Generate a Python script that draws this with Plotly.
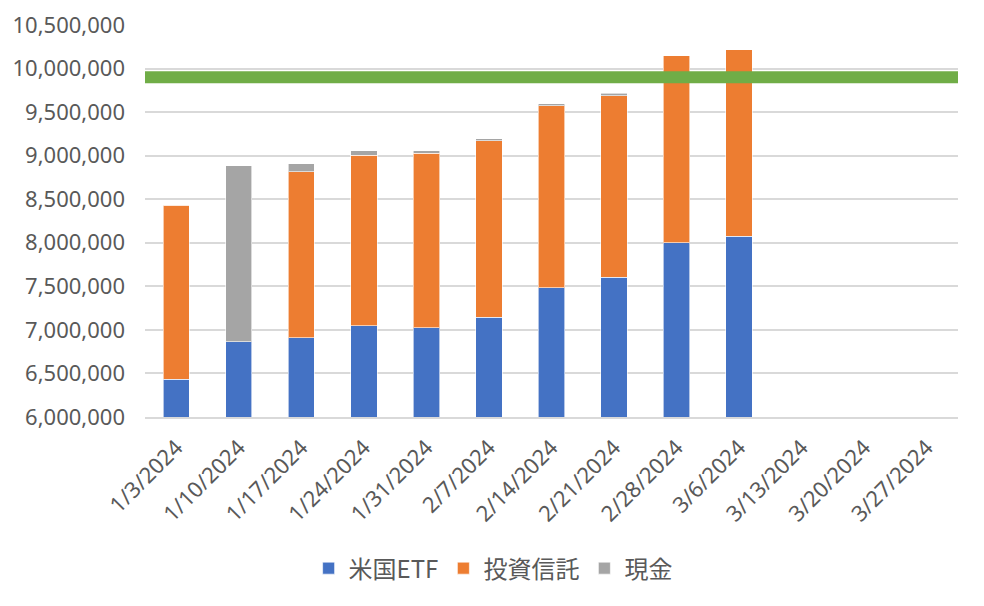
import plotly.graph_objects as go

# weekly snapshot dates
dates = ['1/3/2024', '1/10/2024', '1/17/2024', '1/24/2024', '1/31/2024',
         '2/7/2024', '2/14/2024', '2/21/2024', '2/28/2024', '3/6/2024',
         '3/13/2024', '3/20/2024', '3/27/2024']

# values in yen, None = no data yet
us_etf = [6433000, 6862000, 6908000, 7046000, 7023000, 7146000, 7483000,
          7602000, 8000000, 8073000, None, None, None]
toushin = [1997000, 0, 1905000, 1958000, 2004000, 2026000, 2092000,
           2088000, 2146000, 2142000, None, None, None]
cash = [0, 2023000, 92000, 50000, 27000, 23000, 23000, 27000, 0, 0,
        None, None, None]

target = 9900000

COLORS = {
    'etf': '#4472C4',
    'toushin': '#ED7D31',
    'cash': '#A5A5A5',
    'target': '#70AD47',
}

FONT = 'Noto Sans, Noto Sans CJK JP, sans-serif'

fig = go.Figure()
series = [
    ('米国ETF', us_etf, COLORS['etf']),
    ('投資信託', toushin, COLORS['toushin']),
    ('現金', cash, COLORS['cash']),
]
for name, vals, color in series:
    fig.add_trace(go.Bar(
        x=dates, y=vals, name=name,
        marker=dict(color=color, line=dict(color='rgba(255,255,255,0.6)', width=1)),
    ))

# target line across the whole plot
fig.add_shape(type='line', xref='paper', x0=0, x1=1, yref='y', y0=target, y1=target,
              line=dict(color=COLORS['target'], width=12), layer='above')

# page body adds an 8px offset, margins account for it
fig.update_layout(
    barmode='stack',
    bargap=0.58,
    width=984, height=606,
    margin=dict(l=137, r=34, t=17, b=197),
    paper_bgcolor='white', plot_bgcolor='white',
    font=dict(family=FONT, size=22, color='#595959'),
    legend=dict(orientation='h', xref='container', x=0.493, xanchor='center',
                yref='container', y=0.075, yanchor='middle',
                font=dict(family='Noto Sans CJK JP, Noto Sans', size=24, color='#595959'),
                itemwidth=30, traceorder='normal'),
    xaxis=dict(tickangle=-45, showgrid=False, showline=True, linecolor='#d9d9d9',
               linewidth=2, ticks='', tickfont=dict(size=22), automargin=False,
               ticklabelstandoff=7),
    yaxis=dict(range=[6000000, 10500000], dtick=500000, tickformat=',d',
               showgrid=True, gridcolor='#d9d9d9', gridwidth=2, zeroline=False,
               ticks='', ticklen=0, tickfont=dict(size=22), automargin=False,
               ticklabelstandoff=19),
)

fig.write_html('out.html')
